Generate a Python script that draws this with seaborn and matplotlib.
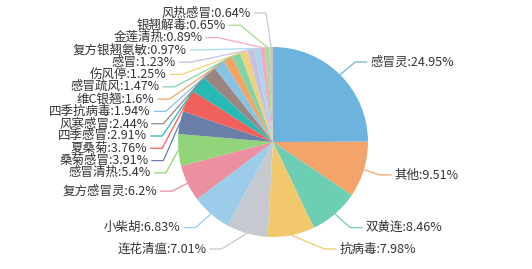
import numpy as np
import matplotlib.pyplot as plt
import seaborn as sns

# share of mentions per cold medicine (%), clockwise from 12 o'clock
names = ["感冒灵", "其他", "双黄连", "抗病毒", "连花清瘟", "小柴胡", "复方感冒灵",
         "感冒清热", "桑菊感冒", "夏桑菊", "四季感冒", "风寒感冒", "四季抗病毒",
         "维C银翘", "感冒疏风", "伤风停", "感冒", "复方银翘氨敏", "金莲清热",
         "银翘解毒", "风热感冒"]
shares = [24.95, 9.51, 8.46, 7.98, 7.01, 6.83, 6.2, 5.4, 3.91, 3.76, 2.91, 2.44,
          1.94, 1.6, 1.47, 1.25, 1.23, 0.97, 0.89, 0.65, 0.64]
colors = ["#6cb3dd", "#f2a46b", "#6ccfb3", "#f1c96c", "#c6c9cf", "#9bcdea", "#eb8fa1",
          "#91d47a", "#6a7fa8", "#f0615c", "#27b9b5", "#9a8582", "#86c3e4", "#f3a462",
          "#7fd4a8", "#f1d27a", "#c6c1e3", "#a9d7ee", "#f2a9c4", "#a6dc8c", "#c8c8c8"]

sns.set_style("white")
plt.rcParams['font.family'] = ['Noto Sans CJK SC', 'DejaVu Sans']

W, H = 532, 269
fig = plt.figure(figsize=(W / 100, H / 100), dpi=100)
ax = fig.add_axes([0, 0, 1, 1])

cx, cy, r = 273, 142, 95  # pixel coords, y down
palette = sns.color_palette(colors)
wedges, _ = ax.pie(shares, colors=palette, startangle=90, counterclock=False,
                   radius=r, center=(cx, H - cy), wedgeprops=dict(linewidth=0))
ax.set_xlim(0, W)
ax.set_ylim(0, H)
ax.axis("off")


def spread(ys, gap, lo, hi):
    # push overlapping labels apart, keeping groups centred on their wish
    clusters = []
    for i in np.argsort(ys):
        clusters.append([[i], ys[i]])
        while True:
            c = clusters[-1]
            n = len(c[0])
            start = np.mean([ys[j] for j in c[0]]) - (n - 1) * gap / 2
            start = min(max(start, lo), hi - (n - 1) * gap)
            c[1] = start
            if len(clusters) > 1:
                p = clusters[-2]
                if p[1] + len(p[0]) * gap > start:
                    p[0].extend(c[0])
                    clusters.pop()
                    continue
            break
    out = np.zeros(len(ys))
    for members, start in clusters:
        for k, j in enumerate(members):
            out[j] = start + k * gap
    return out


mids = np.array([np.deg2rad((w.theta1 + w.theta2) / 2) for w in wedges])
sides = np.where(np.cos(mids) >= 0, 1, -1)
want = cy - 113 * np.sin(mids)
label_y = np.zeros(len(mids))
for s in (-1, 1):
    idx = np.where(sides == s)[0]
    label_y[idx] = spread(want[idx], 12.3, 13, 249)

for i, w in enumerate(wedges):
    s = sides[i]
    px, py = cx + r * np.cos(mids[i]), cy - r * np.sin(mids[i])
    y = label_y[i]
    dy = y - cy
    tx = cx + s * np.sqrt(max(126 ** 2 - dy ** 2, 0))
    if s < 0:
        tx = min(tx, px - 20)
    else:
        tx = max(tx, px + 20)
    xs = [px, tx - s * 15, tx - s * 3]
    ys = [py, y, y]
    ax.plot(xs, [H - v for v in ys], color=palette[i], lw=0.9, solid_capstyle="butt")
    ax.text(tx, H - y, f"{names[i]}:{shares[i]:g}%", ha="left" if s > 0 else "right",
            va="center", fontsize=9, color="#333333")

fig.savefig("out.png", dpi=100)
